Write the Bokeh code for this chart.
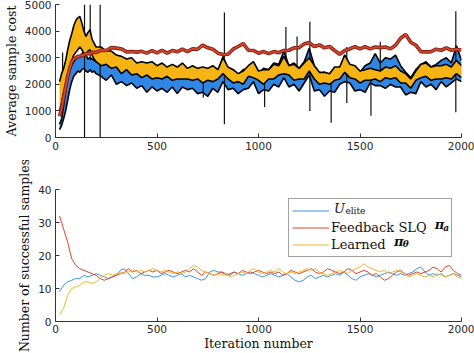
from bokeh.plotting import figure
from bokeh.layouts import column
from bokeh.models import Range1d, FixedTicker, Legend, LegendItem
from bokeh.core.properties import value
from bokeh.embed import file_html
from bokeh.resources import INLINE

# ---------------- top panel data (average sample cost) ----------------
top_iter = [20, 30, 40, 50, 60, 70, 80, 90, 100, 110, 120, 130, 140, 150, 160, 170, 180, 190, 200] + list(range(225, 2001, 25))

blue_lo = [300, 450, 700, 1000, 1400, 1800, 2100, 2300, 2400, 2500, 2450, 2550, 2600, 2500, 2450, 2550, 2450, 2500, 2400,
           2300, 2150, 2350, 2000, 2100, 1950, 2050, 1850, 1950, 1700,
           1900, 1750, 1850, 1700, 1900, 1650, 1900, 1800, 1850, 1650,
           1700, 1550, 1850, 1700, 2100, 1800, 1850, 1650, 1800, 1850,
           2100, 1650, 1800, 1750, 2000, 1900, 2250, 1900, 2000, 1750,
           2050, 2350, 1750, 1800, 1550, 1750, 1700, 2000, 2100, 2050,
           1750, 1800, 1700, 2050, 1950, 1950, 1850, 2000, 1900, 1900,
           1600, 1700, 1650, 2100, 1900, 2000, 1800, 2100, 1900, 2050,
           2200, 2100]
blue_hi = [500, 700, 1200, 1700, 2200, 2500, 2700, 2850, 2950, 3000, 3050, 3100, 3350, 3100, 2950, 3000, 2950, 2900, 2850,
           3000, 2750, 2950, 2700, 2900, 2650, 2750, 2550, 2650, 2500,
           2600, 2500, 2600, 2400, 2600, 2400, 2600, 2500, 2600, 2400,
           2500, 2400, 2650, 2450, 3050, 2550, 2550, 2350, 2550, 2600,
           2800, 2400, 2600, 2550, 2800, 2750, 3250, 2700, 2800, 2600,
           2850, 3350, 2700, 2400, 2450, 2350, 2600, 2600, 3100, 2700,
           2650, 2450, 2700, 2800, 3150, 2800, 3000, 2950, 3100, 2700,
           2450, 2250, 2550, 2750, 2850, 2650, 2750, 2900, 3000, 2800,
           3450, 2900]
yel_lo = [1000, 1300, 1700, 2000, 2400, 2650, 2900, 3100, 3200, 3300, 3400, 3300, 3150, 3100, 3250, 3300, 3100, 2950, 2850,
          2700, 2750, 2600, 2650, 2400, 2550, 2350, 2400, 2250, 2350,
          2200, 2250, 2200, 2300, 2150, 2200, 2200, 2200, 2150, 2200,
          2050, 2150, 2100, 2200, 2400, 2200, 2050, 2100, 2000, 2300,
          2250, 2150, 2000, 2200, 2200, 2350, 2400, 2350, 2150, 2200,
          2200, 2500, 2200, 2000, 2050, 2000, 2150, 2200, 2450, 2250,
          2200, 2050, 2150, 2150, 2200, 2100, 2250, 2200, 2250, 2050,
          2050, 1850, 2150, 2250, 2300, 2150, 2200, 2200, 2250, 2200,
          2400, 2250]
yel_hi = [2100, 2400, 2600, 2900, 3300, 3650, 3900, 4200, 4400, 4500, 4550, 4300, 4000, 3800, 3950, 4050, 3700, 3550, 3400,
          3400, 3250, 3250, 3100, 3050, 2950, 3000, 2800, 2850, 2800,
          2850, 2700, 2800, 2650, 2750, 2650, 2800, 2600, 2700, 2600,
          2650, 2600, 2700, 2550, 3000, 2650, 2550, 2400, 2500, 2700,
          2850, 2500, 2550, 2550, 2750, 2700, 3050, 2700, 2750, 2600,
          2800, 3000, 2700, 2450, 2450, 2400, 2650, 2650, 3100, 2750,
          2700, 2500, 2550, 2600, 2550, 2500, 2650, 2600, 2700, 2500,
          2400, 2200, 2500, 2750, 2800, 2650, 2700, 2700, 2750, 2650,
          2900, 2700]
red_cost = [800, 1100, 1500, 1900, 2300, 2600, 2850, 2950, 3000, 3050, 3050, 3100, 3100, 3150, 3150, 3150, 3200, 3200, 3200,
            3280, 3270, 3380, 3360, 3330, 3220, 3230, 3210, 3240, 3170,
            3270, 3180, 3280, 3170, 3270, 3220, 3320, 3230, 3330, 3320,
            3470, 3370, 3320, 3170, 3120, 3130, 3320, 3420, 3530, 3280,
            3270, 3170, 3230, 3150, 3230, 3190, 3270, 3280, 3370, 3380,
            3520, 3560, 3420, 3480, 3370, 3420, 3270, 3130, 3270, 3330,
            3420, 3330, 3420, 3330, 3400, 3380, 3400, 3330, 3470, 3730,
            3870, 3580, 3470, 3230, 3220, 3230, 3320, 3280, 3370, 3280,
            3320, 3290]

# isolated extreme samples (thin black spikes)
spike_iter = [35, 143, 171, 220, 728, 832, 1030, 1135, 1190, 1253, 1358, 1435, 1554, 1600, 1972]
spike_lo = [1200, 0, 2900, 0, 1500, 500, 1150, 2400, 2300, 1000, 550, 1300, 820, 2500, 950]
spike_hi = [3200, 5000, 5000, 5000, 2600, 4700, 2600, 4150, 3800, 4350, 2500, 3400, 2600, 3600, 4750]

# ---------------- bottom panel data (number of successful samples) ----------------
bot_iter = list(range(20, 2001, 20))
n_red = [32, 28, 24, 19, 17, 16, 15.5, 15, 14.5, 14, 13, 12.5, 13, 13.5, 14, 14.5, 15, 16, 15, 15.5,
         14.5, 15, 15.5, 15, 15.5, 14.5, 15, 15.5, 15, 14.5, 15, 15.5, 15, 16, 15, 14, 15, 14.5, 14, 14.5,
         15, 14, 14.5, 15, 14.5, 15.5, 15, 14.5, 15, 15.5, 15, 14.5, 15, 14.5, 15, 14, 14.5, 15.5, 15, 14.5,
         15, 15.5, 16, 15, 14.5, 15, 16, 15.5, 15, 14.5, 15, 16, 15.5, 14.5, 15, 15.5, 15, 14, 14.5, 13.5,
         12.5, 13, 14, 15, 15.5, 14.5, 14, 14.5, 15, 14.5, 15, 15.5, 16.5, 16, 15, 16.5, 17, 15.5, 14.5, 14]
n_blue = [9, 11, 12, 12.5, 13, 13, 14, 13.5, 14, 14.5, 14, 13.5, 13, 13.5, 14, 15.5, 16, 14.5, 13, 13.5,
          14.5, 14, 14, 13.5, 13.5, 14, 14.5, 14, 13.5, 14, 14.5, 13.5, 14, 13.5, 13, 12.5, 13, 15, 15.5, 15,
          15, 14.5, 14, 15, 14.5, 14, 14.5, 15, 14.5, 14, 13.5, 14, 14.5, 14, 13.5, 14, 14.5, 13.5, 12.5, 12,
          12.5, 13.5, 14, 13, 13.5, 14, 13.5, 14, 14.5, 14, 15, 14, 13, 12.5, 13.5, 14, 14.5, 14, 13.5, 14,
          14.5, 15, 14.5, 14, 14.5, 14, 14.5, 15, 16, 16.5, 15, 14, 14.5, 14, 14.5, 13.5, 14, 14.5, 14, 13.5]
n_yel = [2, 4, 8, 10, 10.5, 11, 12, 12, 11.5, 12, 13, 14, 14.5, 14, 14.5, 15, 14.5, 15, 15.5, 15,
         15.5, 15, 15.5, 16, 15.5, 15, 15.5, 15, 14.5, 15, 14.5, 15, 16, 17, 16.5, 15.5, 15, 14.5, 14, 14.5,
         14, 14.5, 13.5, 14, 14.5, 15, 14.5, 15.5, 16, 15, 14.5, 15, 15.5, 15, 16, 15, 14.5, 15, 14.5, 15,
         15.5, 16, 15.5, 16, 15, 14.5, 14, 14.5, 15, 15.5, 15, 14.5, 15.5, 16, 16.5, 17.5, 16.5, 16, 15.5, 15,
         15.5, 14.5, 15, 15.5, 15, 14.5, 13.5, 14, 14.5, 14, 13.5, 14, 13.5, 14.5, 14, 13.5, 14, 14.5, 13.5, 13]

x_ticks = [0, 500, 1000, 1500, 2000]
cost_ticks = [0, 1000, 2000, 3000, 4000, 5000]
count_ticks = [0, 10, 20, 30, 40]

BLUE_FILL = "#2f86e4"
YEL_FILL = "#f6b414"
RED_FILL = "#d8432a"
RED_EDGE = "#7a1f12"
BLUE_LINE = "#3d95e0"
RED_LINE = "#e2442a"
YEL_LINE = "#f0b628"


def style(p):
    p.outline_line_color = None
    p.xgrid.visible = False
    p.ygrid.visible = False
    p.background_fill_color = "white"
    p.border_fill_color = "white"
    for ax in (p.xaxis[0], p.yaxis[0]):
        ax.axis_line_color = "#333333"
        ax.axis_line_width = 1
        ax.major_tick_line_color = "#333333"
        ax.major_tick_in = 4
        ax.major_tick_out = 0
        ax.minor_tick_line_color = None
        ax.major_label_text_font = "DejaVu Sans"
        ax.major_label_text_font_size = "10.5px"
        ax.major_label_text_color = "#262626"
        ax.major_label_standoff = 4
        ax.axis_label_text_font = "DejaVu Serif"
        ax.axis_label_text_font_style = "normal"
        ax.axis_label_text_font_size = "12.5px"
        ax.axis_label_text_color = "#111111"
        ax.axis_label_standoff = 3


# ---------------- top figure ----------------
p1 = figure(width=474, height=160, x_range=Range1d(0, 2000), y_range=Range1d(0, 5000),
            output_backend="svg", toolbar_location=None,
            min_border_left=51, min_border_right=13, min_border_top=4, min_border_bottom=23)
style(p1)
p1.xaxis.ticker = FixedTicker(ticks=x_ticks)
p1.yaxis.ticker = FixedTicker(ticks=cost_ticks)
p1.yaxis.axis_label = "Average sample cost"

p1.varea(x=top_iter, y1=blue_lo, y2=blue_hi, fill_color=BLUE_FILL)
p1.line(top_iter, blue_lo, line_color="black", line_width=1.6)
p1.line(top_iter, blue_hi, line_color="black", line_width=1.6)
p1.segment(x0=spike_iter, y0=spike_lo, x1=spike_iter, y1=spike_hi, line_color="#111111", line_width=1.2)
p1.varea(x=top_iter, y1=yel_lo, y2=yel_hi, fill_color=YEL_FILL)
p1.line(top_iter, yel_lo, line_color="black", line_width=1.6)
p1.line(top_iter, yel_hi, line_color="black", line_width=1.6)
p1.line(top_iter, red_cost, line_color=RED_EDGE, line_width=3.6)
p1.line(top_iter, red_cost, line_color=RED_FILL, line_width=1.8)

# ---------------- bottom figure ----------------
p2 = figure(width=474, height=193, x_range=Range1d(0, 2000), y_range=Range1d(0, 40),
            output_backend="svg", toolbar_location=None,
            min_border_left=51, min_border_right=13, min_border_top=29, min_border_bottom=30)
style(p2)
p2.xaxis.ticker = FixedTicker(ticks=x_ticks)
p2.yaxis.ticker = FixedTicker(ticks=count_ticks)
p2.yaxis.axis_label = "Number of successful samples"
p2.xaxis.axis_label = "Iteration number"
p2.xaxis.major_label_standoff = 3
p2.xaxis.axis_label_standoff = 0

rb = p2.line(bot_iter, n_blue, line_color=BLUE_LINE, line_width=1)
rr = p2.line(bot_iter, n_red, line_color=RED_LINE, line_width=1)
ry = p2.line(bot_iter, n_yel, line_color=YEL_LINE, line_width=1)

legend = Legend(items=[LegendItem(label=" ", renderers=[rb]),
                       LegendItem(label="Feedback SLQ", renderers=[rr]),
                       LegendItem(label="Learned", renderers=[ry])],
                location="top_right", margin=9, padding=3, spacing=0,
                glyph_width=37, glyph_height=17, label_height=17, label_width=117,
                label_standoff=2, label_text_font="DejaVu Serif", label_text_font_size="13px",
                label_text_color="#111111", border_line_color="#444444", border_line_width=1,
                background_fill_alpha=0)
p2.add_layout(legend, "center")

# math parts of the legend entries
def math_text(xs, ys, texts, size, style):
    p2.text(x=xs, y=ys, text=texts, text_font=value("DejaVu Serif"), text_font_size=value(size),
            text_font_style=style, text_color="#111111", text_baseline="middle")

math_text([1372], [34.3], ["U"], "13px", "italic")
math_text([1428], [33.4], ["elite"], "9px", "normal")
math_text([1868, 1668], [29.3, 24.3], ["\u03c0", "\u03c0"], "13px", "bold italic")
math_text([1910, 1710], [28.4, 23.4], ["a", "\u03b8"], "9px", "bold italic")

layout = column(p1, p2)
open("out.html", "w").write(file_html(layout, INLINE))
